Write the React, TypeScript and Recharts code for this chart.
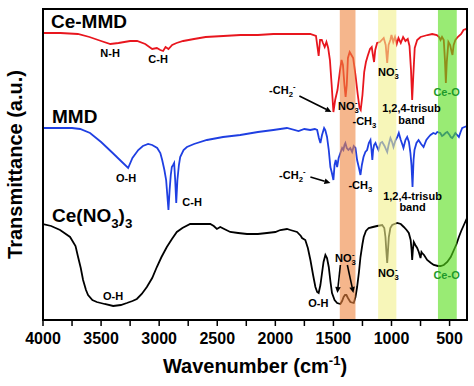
import React from 'react';
import { LineChart, Line, XAxis, YAxis, ReferenceArea, ReferenceLine, ReferenceDot } from 'recharts';

// ---- Data (wavenumber cm-1, transmittance a.u.) ----
const ceMmdSpectrum: [number, number][] = [
  [4000, 287], [3850, 287], [3700, 286], [3600, 283], [3500, 279], [3420, 276], [3350, 277], [3250, 279],
  [3190, 279], [3120, 276], [3060, 271], [3020, 272], [2990, 270], [2966, 269], [2945, 273], [2920, 271],
  [2888, 275], [2850, 277], [2793, 279], [2700, 281], [2600, 283], [2448, 284], [2300, 285], [2150, 285],
  [2017, 286], [1900, 286], [1800, 286], [1700, 286], [1650, 284], [1627, 264], [1615, 280], [1600, 280],
  [1590, 277], [1575, 273], [1560, 278], [1545, 272], [1530, 260], [1515, 235], [1500, 208], [1485, 220],
  [1465, 230], [1445, 248], [1430, 260], [1418, 255], [1405, 235], [1395, 223], [1385, 235], [1375, 262],
  [1360, 268], [1345, 265], [1330, 262], [1310, 245], [1290, 225], [1275, 212], [1265, 210], [1250, 225],
  [1235, 248], [1220, 258], [1205, 264], [1185, 271], [1170, 273], [1160, 265], [1150, 258], [1140, 270],
  [1124, 277], [1100, 278], [1067, 282], [1050, 275], [1037, 257], [1025, 275], [1010, 280], [1000, 285],
  [985, 278], [970, 283], [955, 276], [940, 282], [920, 277], [900, 283], [880, 279], [860, 281],
  [845, 274], [832, 250], [822, 220], [812, 245], [800, 272], [779, 280], [750, 283], [720, 284],
  [690, 285], [650, 286], [610, 285], [590, 283], [578, 280], [565, 283], [550, 280], [540, 260],
  [532, 237], [524, 258], [510, 278], [495, 275], [482, 268], [475, 265], [465, 275], [450, 280],
  [430, 283], [400, 286], [380, 290], [360, 291], [350, 290],
];

const mmdSpectrum: [number, number][] = [
  [4000, 192], [3850, 192], [3750, 192], [3680, 191], [3595, 187], [3500, 178], [3400, 167], [3320, 158],
  [3267, 152], [3230, 162], [3180, 170], [3140, 174], [3095, 176], [3060, 175], [3017, 172], [2990, 167],
  [2974, 160], [2955, 150], [2940, 140], [2930, 125], [2920, 110], [2910, 130], [2900, 145], [2891, 153],
  [2880, 155], [2871, 157], [2862, 140], [2853, 117], [2843, 140], [2830, 155], [2819, 163], [2790, 170],
  [2761, 173], [2700, 176], [2589, 180], [2450, 183], [2302, 185], [2150, 188], [2017, 190], [1900, 192],
  [1800, 189], [1750, 191], [1700, 190], [1660, 191], [1640, 190], [1625, 182], [1612, 177], [1598, 185],
  [1580, 192], [1570, 190], [1555, 183], [1540, 170], [1526, 153], [1515, 148], [1500, 140], [1490, 155],
  [1480, 160], [1468, 153], [1455, 162], [1440, 167], [1425, 172], [1414, 170], [1405, 175], [1397, 177],
  [1385, 172], [1371, 170], [1355, 172], [1339, 168], [1325, 174], [1310, 172], [1296, 160], [1280, 152],
  [1267, 145], [1255, 155], [1241, 163], [1225, 168], [1210, 170], [1195, 177], [1181, 180], [1172, 170],
  [1165, 160], [1158, 170], [1150, 175], [1138, 177], [1125, 173], [1112, 170], [1095, 177], [1080, 178],
  [1060, 174], [1045, 170], [1037, 168], [1025, 175], [1009, 182], [995, 178], [983, 173], [965, 180],
  [950, 183], [937, 187], [920, 180], [905, 175], [897, 172], [880, 180], [865, 183], [850, 178],
  [837, 167], [828, 155], [819, 133], [810, 160], [802, 170], [785, 177], [767, 180], [745, 176],
  [724, 173], [700, 180], [680, 183], [664, 185], [640, 187], [620, 186], [606, 188], [580, 187],
  [565, 184], [552, 185], [535, 187], [520, 188], [500, 185], [490, 183], [477, 182], [465, 184],
  [450, 187], [435, 185], [420, 183], [405, 188], [391, 192], [371, 193], [350, 194],
];

const ceNitrateSpectrum: [number, number][] = [
  [4000, 96], [3930, 94], [3853, 90], [3767, 83], [3720, 74], [3698, 63], [3675, 52], [3655, 40],
  [3630, 30], [3612, 25], [3575, 20], [3537, 18], [3470, 16], [3396, 14], [3330, 15], [3278, 17],
  [3230, 19], [3192, 21], [3150, 26], [3106, 33], [3060, 42], [3020, 53], [2980, 63], [2934, 73],
  [2890, 81], [2848, 88], [2800, 92], [2733, 96], [2650, 96], [2560, 96], [2530, 94], [2503, 91],
  [2474, 93], [2440, 91], [2388, 88], [2320, 87], [2244, 86], [2150, 86], [2072, 87], [2000, 88],
  [1957, 90], [1900, 91], [1871, 90], [1813, 88], [1780, 84], [1770, 82], [1742, 80], [1720, 72],
  [1698, 60], [1675, 45], [1655, 33], [1640, 28], [1627, 27], [1612, 35], [1598, 47], [1585, 58],
  [1569, 65], [1555, 62], [1540, 53], [1525, 38], [1512, 27], [1490, 20], [1468, 17], [1440, 16],
  [1425, 19], [1412, 23], [1400, 25], [1388, 25], [1375, 22], [1354, 18], [1325, 17], [1310, 23],
  [1296, 33], [1280, 48], [1267, 63], [1250, 76], [1239, 83], [1220, 89], [1196, 92], [1160, 93],
  [1124, 94], [1080, 95], [1062, 92], [1052, 83], [1045, 70], [1037, 57], [1030, 70], [1023, 83],
  [1010, 92], [994, 95], [951, 97], [920, 96], [894, 93], [870, 90], [851, 87], [835, 80],
  [827, 70], [822, 60], [816, 70], [808, 78], [795, 75], [779, 72], [765, 68], [750, 62],
  [742, 68], [736, 67], [720, 65], [693, 60], [660, 57], [636, 55], [600, 54], [578, 54],
  [550, 55], [520, 58], [490, 63], [463, 70], [440, 76], [420, 83], [400, 89], [377, 95], [350, 102],
];

const xTicks = [4000, 3750, 3500, 3250, 3000, 2750, 2500, 2250, 2000, 1750, 1500, 1250, 1000, 750, 500];
const xDomain: [number, number] = [350, 4000];
const yDomain: [number, number] = [0, 311];

// highlighted bands (cm-1)
const orangeBand: [number, number] = [1310, 1445];
const yellowBand: [number, number] = [958, 1115];
const greenBand: [number, number] = [438, 600];

type Seg = { t: string; k?: 'sub' | 'sup' | 'subsup' };
type Note = { wn: number; t: number; segs: Seg[]; color?: string; size?: number; anchor?: 'start' | 'middle' };

const seriesTitles: Note[] = [
  { wn: 3931, t: 292, segs: [{ t: 'Ce-MMD' }], anchor: 'start' },
  { wn: 3922, t: 197, segs: [{ t: 'MMD' }], anchor: 'start' },
  { wn: 3922, t: 98, segs: [{ t: 'Ce(NO' }, { t: '3', k: 'sub' }, { t: ')' }, { t: '3', k: 'sub' }], anchor: 'start' },
];

const GREEN_TXT = '#1f9a2a';
const annotations: Note[] = [
  { wn: 3422, t: 263, segs: [{ t: 'N-H' }] },
  { wn: 3009, t: 257, segs: [{ t: 'C-H' }] },
  { wn: 1940, t: 226, segs: [{ t: '-CH' }, { t: '2', k: 'sub' }, { t: '-', k: 'sup' }] },
  { wn: 1371, t: 210, segs: [{ t: 'NO' }, { t: '3', k: 'subsup' }] },
  { wn: 1233, t: 195, segs: [{ t: '-CH' }, { t: '3', k: 'sub' }] },
  { wn: 1026, t: 244, segs: [{ t: 'NO' }, { t: '3', k: 'subsup' }] },
  { wn: 828, t: 208, segs: [{ t: '1,2,4-trisub' }] },
  { wn: 828, t: 196, segs: [{ t: 'band' }] },
  { wn: 526, t: 224, segs: [{ t: 'Ce-O' }], color: GREEN_TXT },
  { wn: 3285, t: 138, segs: [{ t: 'O-H' }] },
  { wn: 2716, t: 114, segs: [{ t: 'C-H' }] },
  { wn: 1854, t: 141, segs: [{ t: '-CH' }, { t: '2', k: 'sub' }, { t: '-', k: 'sup' }] },
  { wn: 1268, t: 131, segs: [{ t: '-CH' }, { t: '3', k: 'sub' }] },
  { wn: 819, t: 120, segs: [{ t: '1,2,4-trisub' }] },
  { wn: 819, t: 109, segs: [{ t: 'band' }] },
  { wn: 3397, t: 20, segs: [{ t: 'O-H' }] },
  { wn: 1630, t: 13, segs: [{ t: 'O-H' }] },
  { wn: 1397, t: 58, segs: [{ t: 'NO' }, { t: '3', k: 'subsup' }] },
  { wn: 1026, t: 43, segs: [{ t: 'NO' }, { t: '3', k: 'subsup' }] },
  { wn: 526, t: 41, segs: [{ t: 'Ce-O' }], color: GREEN_TXT },
];

const arrows: [number, number, number, number][] = [
  [1793, 224, 1517, 208],
  [1698, 143, 1526, 137],
  [1440, 55, 1466, 27],
  [1380, 55, 1328, 27],
];

const FONT = "Arial, 'Liberation Sans', Helvetica, sans-serif";

function RichText({ x, y, segs, size = 11, color = '#000', anchor = 'middle' }: any) {
  const small = size * 0.7;
  let cur = 0;
  const nodes: any[] = [];
  segs.forEach((s: Seg, i: number) => {
    if (!s.k) {
      nodes.push(<tspan key={i} fontSize={size} dy={0 - cur}>{s.t}</tspan>);
      cur = 0;
    } else if (s.k === 'sub') {
      const target = size * 0.3;
      nodes.push(<tspan key={i} fontSize={small} dy={target - cur}>{s.t}</tspan>);
      cur = target;
    } else if (s.k === 'sup') {
      const target = -size * 0.45;
      nodes.push(<tspan key={i} fontSize={small} dy={target - cur}>{s.t}</tspan>);
      cur = target;
    } else {
      const t1 = size * 0.3;
      nodes.push(<tspan key={i + 'a'} fontSize={small} dy={t1 - cur}>{s.t}</tspan>);
      const t2 = -size * 0.5;
      nodes.push(<tspan key={i + 'b'} fontSize={small} dx={-small * 0.5} dy={t2 - t1}>-</tspan>);
      cur = t2;
    }
  });
  return (
    <text x={x} y={y} textAnchor={anchor} fill={color} fontWeight="bold" fontFamily={FONT}>
      {nodes}
    </text>
  );
}

const ArrowShape = (p: any) => {
  const { x1, y1, x2, y2 } = p;
  if ([x1, y1, x2, y2].some((v) => typeof v !== 'number' || isNaN(v))) return <g />;
  const a = Math.atan2(y2 - y1, x2 - x1);
  const L = 6;
  const W = 2.8;
  const bx = x2 - L * Math.cos(a);
  const by = y2 - L * Math.sin(a);
  const pts = `${x2},${y2} ${bx + W * Math.sin(a)},${by - W * Math.cos(a)} ${bx - W * Math.sin(a)},${by + W * Math.cos(a)}`;
  return (
    <g>
      <line x1={x1} y1={y1} x2={bx} y2={by} stroke="#000" strokeWidth={1.6} />
      <polygon points={pts} fill="#000" />
    </g>
  );
};

const toRows = (arr: [number, number][]) => arr.map(([wn, t]) => ({ wn, t }));

export default function App() {
  const red = toRows(ceMmdSpectrum);
  const blue = toRows(mmdSpectrum);
  const black = toRows(ceNitrateSpectrum);

  const xLabel = (props: any) => {
    const vb = props.viewBox || { x: 43, y: 320, width: 424, height: 66 };
    return (
      <text x={vb.x + vb.width / 2} y={vb.y + 53} textAnchor="middle" fontWeight="bold" fontFamily={FONT} fill="#000">
        <tspan fontSize={20}>Wavenumber (cm</tspan>
        <tspan fontSize={13} dy={-8}>-1</tspan>
        <tspan fontSize={20} dy={8}>)</tspan>
      </text>
    );
  };
  const yLabel = (props: any) => {
    const vb = props.viewBox || { x: 0, y: 9, width: 43, height: 311 };
    const cx = 22;
    const cy = vb.y + vb.height / 2;
    return (
      <text x={cx} y={cy} transform={`rotate(-90, ${cx}, ${cy})`} textAnchor="middle" fontWeight="bold" fontSize={20} fontFamily={FONT} fill="#000">
        Transmittance (a.u.)
      </text>
    );
  };

  return (
    <div style={{ position: 'absolute', left: 0, top: 0, background: '#fff' }}>
      <LineChart width={474} height={386} margin={{ top: 9, right: 7, bottom: 0, left: 0 }}>
        <XAxis
          type="number"
          dataKey="wn"
          domain={xDomain}
          reversed
          allowDataOverflow
          ticks={xTicks}
          interval={0}
          tickFormatter={(v: number) => (v % 500 === 0 ? String(v) : '')}
          tick={{ fill: '#000', fontSize: 16, fontWeight: 'bold', fontFamily: FONT }}
          tickSize={6}
          tickMargin={7}
          tickLine={{ stroke: '#000', strokeWidth: 1.5 }}
          axisLine={{ stroke: '#000', strokeWidth: 2 }}
          height={66}
          label={xLabel}
        />
        <YAxis
          type="number"
          domain={yDomain}
          allowDataOverflow
          tick={false}
          tickLine={false}
          axisLine={false}
          width={43}
          label={yLabel}
        />
        <Line data={red} dataKey="t" stroke="#e8161e" strokeWidth={1.8} dot={false} isAnimationActive={false} type="linear" />
        <Line data={blue} dataKey="t" stroke="#1f3fe2" strokeWidth={1.8} dot={false} isAnimationActive={false} type="linear" />
        <Line data={black} dataKey="t" stroke="#000" strokeWidth={1.8} dot={false} isAnimationActive={false} type="linear" />

        <ReferenceArea x1={orangeBand[0]} x2={orangeBand[1]} y1={yDomain[0]} y2={yDomain[1]} fill="#ef8540" fillOpacity={0.6} stroke="none" zIndex={450} />
        <ReferenceArea x1={yellowBand[0]} x2={yellowBand[1]} y1={yDomain[0]} y2={yDomain[1]} fill="#f2f08a" fillOpacity={0.6} stroke="none" zIndex={450} />
        <ReferenceArea x1={greenBand[0]} x2={greenBand[1]} y1={yDomain[0]} y2={yDomain[1]} fill="#55dd18" fillOpacity={0.6} stroke="none" zIndex={450} />
        <ReferenceArea x1={xDomain[0]} x2={xDomain[1]} y1={yDomain[0]} y2={yDomain[1]} fill="none" stroke="#000" strokeWidth={2} zIndex={460} />

        {arrows.map(([a, b, c, d], i) => (
          <ReferenceLine key={'ar' + i} segment={[{ x: a, y: b }, { x: c, y: d }]} shape={ArrowShape} zIndex={470} />
        ))}
        {seriesTitles.map((n, i) => (
          <ReferenceDot key={'st' + i} x={n.wn} y={n.t} r={0} zIndex={480}
            shape={(p: any) => <RichText x={p.cx} y={p.cy} segs={n.segs} size={19} anchor="start" />} />
        ))}
        {annotations.map((n, i) => (
          <ReferenceDot key={'an' + i} x={n.wn} y={n.t} r={0} zIndex={480}
            shape={(p: any) => <RichText x={p.cx} y={p.cy} segs={n.segs} size={11} color={n.color || '#000'} />} />
        ))}
      </LineChart>
    </div>
  );
}
